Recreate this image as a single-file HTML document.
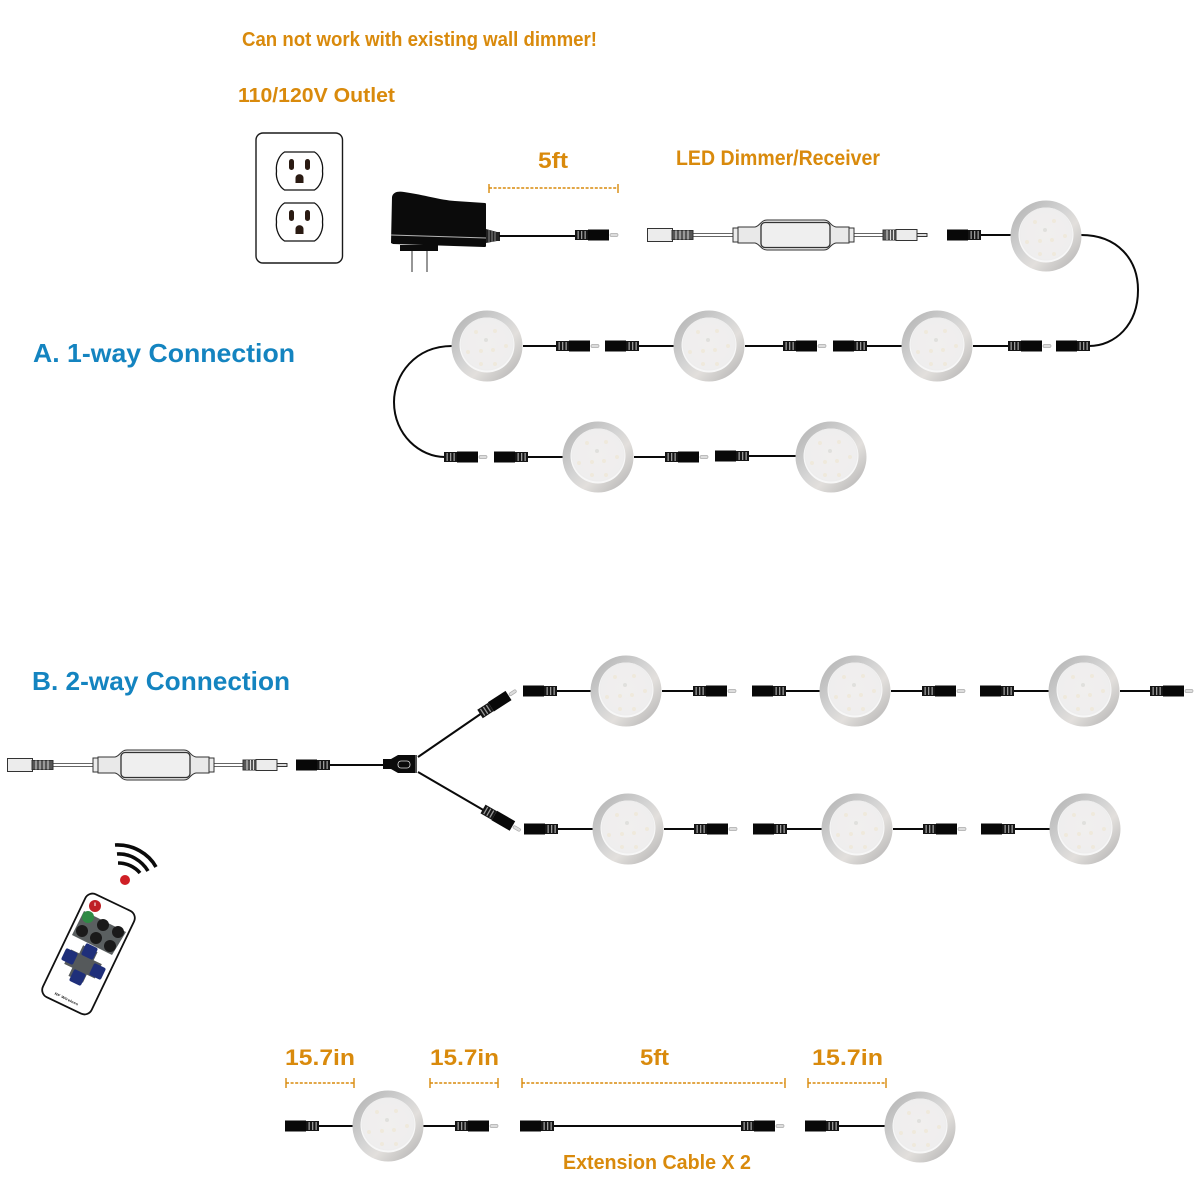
<!DOCTYPE html>
<html><head><meta charset="utf-8"><style>
html,body{margin:0;padding:0;background:#fff}
svg{display:block;filter:blur(.35px)}
text{font-family:"Liberation Sans",sans-serif;font-weight:bold}
.o{fill:#d98a0c}.b{fill:#1484c0}
.c{stroke:#0a0a0a;stroke-width:2;fill:none}
.d{stroke:#d98a0c;stroke-width:1.4;fill:none}
.dd{stroke-dasharray:3 1.6}
</style></head><body>
<svg width="1200" height="1200" viewBox="0 0 1200 1200" xmlns="http://www.w3.org/2000/svg">
<defs>
<linearGradient id="ring" x1="0" y1="0" x2="1" y2="1">
<stop offset="0" stop-color="#b0b0b0"/><stop offset=".45" stop-color="#d4d4d4"/><stop offset=".62" stop-color="#e2dfdc"/><stop offset="1" stop-color="#adadad"/>
</linearGradient>
<radialGradient id="face" cx=".5" cy=".5" r=".55">
<stop offset="0" stop-color="#f1efee"/><stop offset=".85" stop-color="#efeeee"/><stop offset="1" stop-color="#e9e9e9"/>
</radialGradient>
<g id="L">
<circle r="35.5" fill="url(#ring)"/>
<circle r="27.5" cy="-1" fill="#f7f7f7"/>
<circle r="26.5" cy="-2" fill="url(#face)"/>
<g fill="#efe9dc">
<circle cx="-11" cy="-14" r="2"/><circle cx="8" cy="-15" r="2"/><circle cx="-6" cy="5" r="2"/><circle cx="6" cy="4" r="2"/>
<circle cx="19" cy="0" r="2"/><circle cx="-19" cy="6" r="2"/><circle cx="-6" cy="18" r="2"/><circle cx="8" cy="18" r="2"/>
</g>
<circle cx="-1" cy="-6" r="2" fill="#e0e0dd"/>
</g>
<g id="ribs">
<rect x="0" y="-5" width="13" height="10" fill="#151515"/>
<g fill="#9a9a9a"><rect x="2.5" y="-4" width="1.3" height="8"/><rect x="6" y="-4" width="1.3" height="8"/><rect x="9.5" y="-4" width="1.3" height="8"/></g>
</g>
<g id="F">
<rect x="0" y="-5.5" width="21" height="11" fill="#080808"/>
<use href="#ribs" x="21"/>
</g>
<g id="M">
<use href="#ribs"/>
<rect x="13" y="-5.5" width="21" height="11" fill="#080808"/>
<rect x="35" y="-1.5" width="8" height="3" rx="1.4" fill="#ddd" stroke="#aaa" stroke-width=".7"/>
</g>
<g id="R">
<g fill="#ececec" stroke="#333" stroke-width="1">
<path d="M46 -1.500H87M46 1.500H87" fill="none" stroke="#666"/>
<path d="M206 -1.500H237M206 1.500H237" fill="none" stroke="#666"/>
<rect x="0.500" y="-6.500" width="25" height="13"/>
<rect x="25" y="-4.500" width="21" height="9" fill="#555"/>
<path d="M29 -4.500V4.500M33 -4.500V4.500M37 -4.500V4.500M41 -4.500V4.500" fill="none" stroke="#ddd"/>
<rect x="86" y="-7" width="6" height="14"/>
<rect x="201" y="-7" width="6" height="14"/>
<path d="M91 -8H108C113 -9 114 -15 120 -15H177C183 -15 183 -9 189 -8H202V8H189C183 9 183 15 177 15H120C114 15 113 9 108 8H91Z" fill="#e9e9e9"/>
<rect x="114" y="-12.500" width="69" height="25" rx="4" fill="#efefef" stroke-width="1.300"/>
<rect x="236" y="-5" width="13" height="10" fill="#555"/>
<path d="M240 -5V5M243.500 -5V5M246.500 -5V5" fill="none" stroke="#ddd"/>
<rect x="249" y="-5.500" width="21" height="11"/>
<rect x="270" y="-1.500" width="10" height="3" fill="#ddd"/>
</g>
</g>
<g id="out">
<path d="M-15 -19H15C20 -16 24 -8 23 0C24 8 20 16 15 19H-15C-20 16 -24 8 -23 0C-24 -8 -20 -16 -15 -19Z" fill="#fff" stroke="#111" stroke-width="1.300"/>
<rect x="-10.500" y="-12" width="5" height="11" rx="2.500" fill="#2a1a12"/>
<rect x="5.500" y="-12" width="5" height="11" rx="2.500" fill="#2a1a12"/>
<path d="M-4 12V7C-4 2 4 2 4 7V12Z" fill="#2a1a12"/>
</g>
</defs>

<!-- labels -->
<text class="o" x="242" y="46" font-size="20" textLength="355" lengthAdjust="spacingAndGlyphs">Can not work with existing wall dimmer!</text>
<text class="o" x="238" y="102" font-size="20" textLength="157" lengthAdjust="spacingAndGlyphs">110/120V Outlet</text>
<text class="o" x="538" y="168" font-size="22" textLength="30" lengthAdjust="spacingAndGlyphs">5ft</text>
<text class="o" x="676" y="165" font-size="21" textLength="204" lengthAdjust="spacingAndGlyphs">LED Dimmer/Receiver</text>
<text class="b" x="33" y="362" font-size="26" textLength="262" lengthAdjust="spacingAndGlyphs">A. 1-way Connection</text>
<text class="b" x="32" y="690" font-size="26" textLength="258" lengthAdjust="spacingAndGlyphs">B. 2-way Connection</text>
<text class="o" x="285" y="1065" font-size="22" textLength="70" lengthAdjust="spacingAndGlyphs">15.7in</text>
<text class="o" x="430" y="1065" font-size="22" textLength="69" lengthAdjust="spacingAndGlyphs">15.7in</text>
<text class="o" x="640" y="1065" font-size="22" textLength="29" lengthAdjust="spacingAndGlyphs">5ft</text>
<text class="o" x="812" y="1065" font-size="22" textLength="71" lengthAdjust="spacingAndGlyphs">15.7in</text>
<text class="o" x="563" y="1169" font-size="20" textLength="188" lengthAdjust="spacingAndGlyphs">Extension Cable X 2</text>

<!-- dimension lines -->
<path class="d dd" d="M489 188H618M286 1083H354M430 1083H498M522 1083H785M808 1083H886"/>
<path class="d" d="M489 184V193M618 184V193M286 1078V1088M354 1078V1088M430 1078V1088M498 1078V1088M522 1078V1088M785 1078V1088M808 1078V1088M886 1078V1088"/>

<!-- outlet -->
<rect x="256" y="133" width="86.500" height="130" rx="7" fill="#fff" stroke="#1a1a1a" stroke-width="1.400"/>
<use href="#out" x="299.500" y="171"/>
<use href="#out" x="299.500" y="222"/>

<!-- adapter -->
<path d="M391 243L392 197C393 192 398 191 404 192C425 195 440 200 455 201L485 203C486 203 486 204 486 205V246C486 247 485 247 484 247L393 244Z" fill="#0b0b0b"/>
<path d="M391 235L486 238" stroke="#b5b5b5" stroke-width="1"/>
<rect x="400" y="245" width="38" height="6" fill="#0b0b0b"/>
<path d="M412 251V272M427 251V272" stroke="#8a8a8a" stroke-width="1.800"/>
<path d="M486 229L497 232H500V241H497L486 243Z" fill="#222"/>
<path d="M489 230V242M492 231V242M495 232V241" stroke="#888" stroke-width="1"/>
<path class="c" d="M499 236H576"/>
<use href="#M" x="575" y="235"/>

<!-- receivers -->
<use href="#R" x="647" y="235"/>
<use href="#R" x="7" y="765"/>

<!-- cables section A -->
<path class="c" d="M980 235H1012M1081 235C1118 235 1138 260 1138 290C1138 325 1115 346 1089 346"/>
<path class="c" d="M523 346H557M638 346H675M745 346H784M866 346H902M973 346H1009"/>
<path class="c" d="M452 346C415 346 394 375 394 402C394 435 420 457 445 457"/>
<path class="c" d="M527 457H563M634 457H666M748 456H796"/>
<use href="#F" x="947" y="235"/>
<use href="#M" x="556" y="346"/><use href="#F" x="605" y="346"/>
<use href="#M" x="783" y="346"/><use href="#F" x="833" y="346"/>
<use href="#M" x="1008" y="346"/><use href="#F" x="1056" y="346"/>
<use href="#M" x="444" y="457"/><use href="#F" x="494" y="457"/>
<use href="#M" x="665" y="457"/><use href="#F" x="715" y="456"/>

<!-- cables section B -->
<path class="c" d="M330 765H384"/>
<use href="#F" x="296" y="765"/>
<path d="M383 759H391L398 755H417V773H398L391 769H383Z" fill="#0b0b0b"/>
<path d="M416 755V773" stroke="#999" stroke-width="1"/>
<rect x="398" y="761" width="12" height="7" rx="3" fill="none" stroke="#ddd" stroke-width=".8"/>
<path class="c" d="M418 757L482 713M418 772L485 811"/>
<use href="#M" transform="translate(480 714) rotate(-33)"/>
<use href="#M" transform="translate(483 809) rotate(30)"/>
<path class="c" d="M556 691H592M662 691H694M785 691H821M891 691H923M1013 691H1050M1120 691H1151"/>
<path class="c" d="M557 829H594M664 829H695M786 829H823M893 829H924M1014 829H1051"/>
<use href="#F" x="523" y="691"/><use href="#M" x="693" y="691"/>
<use href="#F" x="752" y="691"/><use href="#M" x="922" y="691"/>
<use href="#F" x="980" y="691"/><use href="#M" x="1150" y="691"/>
<use href="#F" x="524" y="829"/><use href="#M" x="694" y="829"/>
<use href="#F" x="753" y="829"/><use href="#M" x="923" y="829"/>
<use href="#F" x="981" y="829"/>

<!-- bottom parts -->
<path class="c" d="M318 1126H354M423 1126H456M553 1126H742M838 1126H886"/>
<use href="#F" x="285" y="1126"/><use href="#M" x="455" y="1126"/>
<use href="#F" x="520" y="1126"/><use href="#M" x="741" y="1126"/>
<use href="#F" x="805" y="1126"/>

<!-- lights -->
<use href="#L" x="1046" y="236"/>
<use href="#L" x="487" y="346"/><use href="#L" x="709" y="346"/><use href="#L" x="937" y="346"/>
<use href="#L" x="598" y="457"/><use href="#L" x="831" y="457"/>
<use href="#L" x="626" y="691"/><use href="#L" x="855" y="691"/><use href="#L" x="1084" y="691"/>
<use href="#L" x="628" y="829"/><use href="#L" x="857" y="829"/><use href="#L" x="1085" y="829"/>
<use href="#L" x="388" y="1126"/><use href="#L" x="920" y="1127"/>

<!-- remote -->
<g fill="none" stroke="#0a0a0a" stroke-width="3.600">
<path d="M115 845C133 844 149 854 156 867"/>
<path d="M117 854C130 853 142 861 148 871"/>
<path d="M118 863C127 863 135 867 140 873"/>
</g>
<circle cx="125" cy="880" r="5" fill="#cf1f26"/>
<rect x="61.500" y="897" width="54" height="114" rx="8" fill="#fff" stroke="#111" stroke-width="1.800" transform="rotate(25.600 88.500 954)"/>
<circle cx="95" cy="906" r="6" fill="#bf2026"/>
<path d="M95 902.500V906" stroke="#fff" stroke-width="1"/>
<path d="M84 911L126 932L112 955L72 935Z" fill="#5a5f60"/>
<circle cx="88" cy="917" r="6" fill="#2f8a45"/>
<g fill="#1a1a1a"><circle cx="103" cy="925" r="6"/><circle cx="118" cy="932" r="6"/><circle cx="82" cy="931" r="6"/><circle cx="96" cy="938" r="6"/><circle cx="110" cy="946" r="6"/></g>
<g transform="rotate(25.600 83 964)" fill="#55595b">
<rect x="75" y="947" width="16" height="34"/>
<rect x="66" y="956" width="34" height="16"/>
</g>
<g fill="#1f2f7a">
<rect x="83" y="945" width="13" height="13" rx="2" transform="rotate(25.600 89.500 951.500)"/>
<rect x="63" y="950" width="13" height="13" rx="2" transform="rotate(25.600 69.500 956.500)"/>
<rect x="91" y="965" width="13" height="13" rx="2" transform="rotate(25.600 97.500 971.500)"/>
<rect x="71" y="971" width="13" height="13" rx="2" transform="rotate(25.600 77.500 977.500)"/>
</g>
<text x="66" y="1000" font-size="3.500" text-anchor="middle" fill="#222" transform="rotate(25.600 66 1000)" textLength="26" lengthAdjust="spacingAndGlyphs">RF Wireless</text>
</svg>
</body></html>
